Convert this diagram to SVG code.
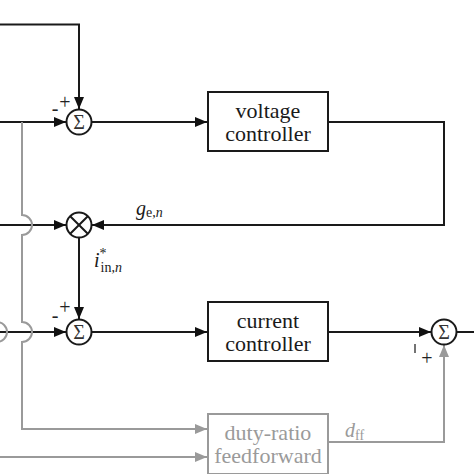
<svg xmlns="http://www.w3.org/2000/svg" width="474" height="474" viewBox="0 0 474 474">
<defs>
<marker id="ab" markerUnits="userSpaceOnUse" markerWidth="14" markerHeight="12" refX="12" refY="5" orient="auto"><path d="M0,0 L12,5 L0,10 Z" fill="#111"/></marker>
<marker id="ag" markerUnits="userSpaceOnUse" markerWidth="14" markerHeight="12" refX="12" refY="5" orient="auto"><path d="M0,0 L12,5 L0,10 Z" fill="#9a9a9a"/></marker>
</defs>
<style>
text{font-family:"Liberation Serif","Times New Roman","DejaVu Serif",serif}
.k{fill:none;stroke:#1a1a1a;stroke-width:2}
.g{fill:none;stroke:#9a9a9a;stroke-width:2}
.box{fill:#fff;stroke:#1a1a1a;stroke-width:2}
.gbox{fill:#fff;stroke:#9a9a9a;stroke-width:2}
.t{font-size:22px;fill:#1a1a1a;text-anchor:middle}
.gt{font-size:22px;fill:#9a9a9a;text-anchor:middle}
.s{font-size:20px;fill:#222;text-anchor:middle}
.m{font-style:italic;fill:#1a1a1a}
.sig{font-size:20px;fill:#333;text-anchor:middle}
.circ{fill:#fff;stroke:#1a1a1a;stroke-width:2}
</style>
<g id="connectors">
<path class="k" d="M0,24.5 H79 V109" marker-end="url(#ab)"/>
<path class="k" d="M0,122 H66" marker-end="url(#ab)"/>
<path class="k" d="M92,122 H207" marker-end="url(#ab)"/>
<path class="k" d="M328,122 H444 V225 H92" marker-end="url(#ab)"/>
<path class="k" d="M0,225 H66" marker-end="url(#ab)"/>
<path class="k" d="M79,238 V319" marker-end="url(#ab)"/>
<path class="k" d="M0,332 H66" marker-end="url(#ab)"/>
<path class="k" d="M92,332 H207" marker-end="url(#ab)"/>
<path class="k" d="M328,332 H431" marker-end="url(#ab)"/>
<path class="k" d="M457,332 H474"/>
<path class="g" d="M22,122 V215 A10,10 0 0 1 22,235 V322 A10,10 0 0 1 22,342 V429 H207" marker-end="url(#ag)"/>
<path class="g" d="M-3,322 A10,10 0 0 1 -3,342"/>
<path class="g" d="M0,457 H207" marker-end="url(#ag)"/>
<path class="g" d="M328,442 H444 V345" marker-end="url(#ag)"/>
</g>
<g id="sum1">
<circle class="circ" cx="79" cy="122" r="12.5"/>
<text class="sig" x="79" y="129">Σ</text>
<text class="s" x="65" y="109">+</text>
<text class="s" x="55" y="115">-</text>
</g>
<g id="mult">
<circle class="circ" cx="79" cy="225" r="12.5"/>
<path class="k" d="M70.2,216.2 L87.8,233.8 M87.8,216.2 L70.2,233.8"/>
</g>
<g id="sum2">
<circle class="circ" cx="79" cy="332" r="12.5"/>
<text class="sig" x="79" y="339">Σ</text>
<text class="s" x="65" y="314">+</text>
<text class="s" x="55" y="322">-</text>
</g>
<g id="sum3">
<circle class="circ" cx="444" cy="332" r="12.5"/>
<text class="sig" x="444" y="339">Σ</text>
<path d="M415,344 V353" stroke="#444" stroke-width="1.5"/>
<text class="s" x="427" y="365">+</text>
</g>
<g id="voltage-controller">
<rect class="box" x="208" y="92" width="120" height="59"/>
<text class="t" x="268" y="118">voltage</text>
<text class="t" x="268" y="141">controller</text>
</g>
<g id="current-controller">
<rect class="box" x="208" y="302" width="120" height="59"/>
<text class="t" x="268" y="328">current</text>
<text class="t" x="268" y="351">controller</text>
</g>
<g id="duty-ratio-feedforward">
<rect class="gbox" x="208" y="414" width="120" height="60"/>
<text class="gt" x="268" y="440">duty-ratio</text>
<text class="gt" x="268" y="463">feedforward</text>
</g>
<g id="labels">
<text class="m" x="136" y="215" font-size="20">g<tspan font-size="14" dy="2" font-style="normal">e,</tspan><tspan font-size="14">n</tspan></text>
<text class="m" x="94" y="267" font-size="20">i<tspan font-size="14" dy="-9" font-style="normal">*</tspan><tspan font-size="14" dx="-6" dy="14" font-style="normal">in,</tspan><tspan font-size="14">n</tspan></text>
<text class="m" x="345" y="437" font-size="20" style="fill:#9a9a9a">d<tspan font-size="14" dy="3" font-style="normal">ff</tspan></text>
</g>
</svg>
